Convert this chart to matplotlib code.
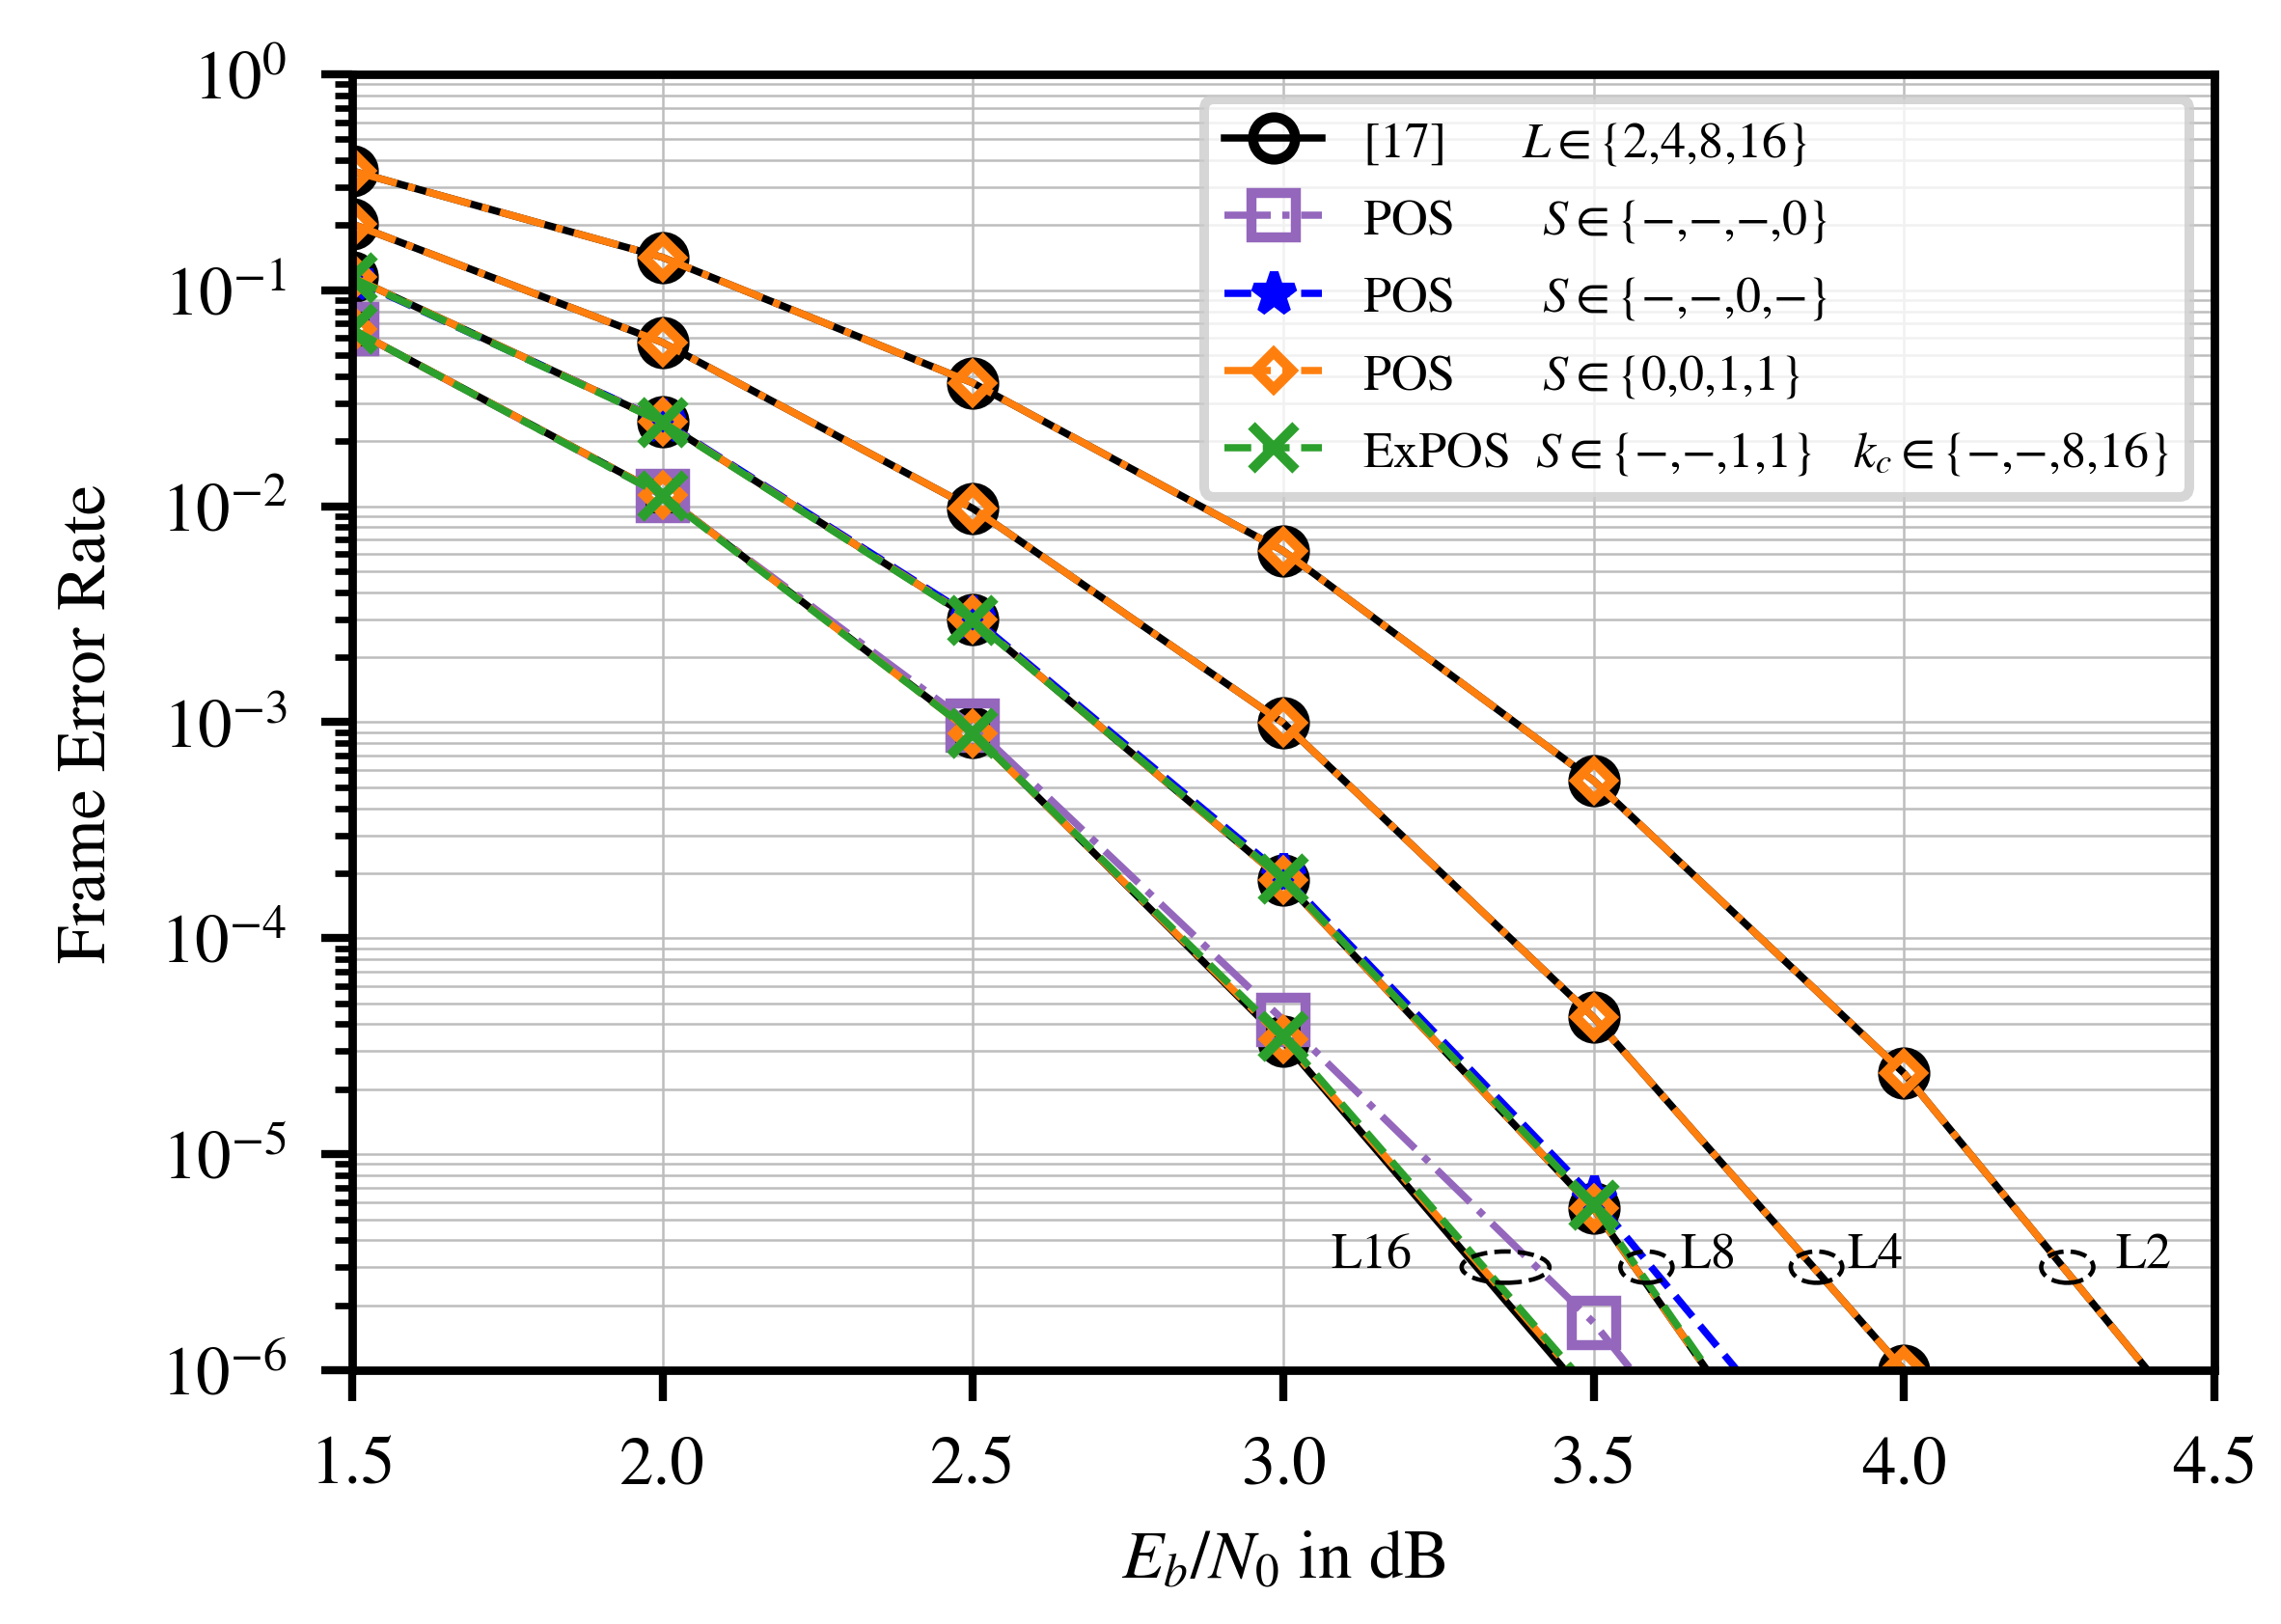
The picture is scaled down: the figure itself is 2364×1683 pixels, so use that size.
import numpy as np
import matplotlib
matplotlib.use('Agg')
import matplotlib.pyplot as plt
from matplotlib.patches import Ellipse
from matplotlib.ticker import LogLocator, NullFormatter, MultipleLocator, FormatStrFormatter

plt.rcParams['font.family'] = ['STIXGeneral', 'DejaVu Serif']
plt.rcParams['mathtext.fontset'] = 'stix'
plt.rcParams['axes.linewidth'] = 2.1

# Eb/N0 in dB
snr = [1.5, 2.0, 2.5, 3.0, 3.5, 4.0, 4.5]

# [17] reference decoder, L in {2,4,8,16}
ref_L2 = [3.57e-1, 1.42e-1, 3.72e-2, 6.21e-3, 5.36e-4, 2.37e-5, 4.2e-7]
ref_L4 = [2.03e-1, 5.73e-2, 9.76e-3, 9.93e-4, 4.30e-5, 1.0e-6]
ref_L8 = [1.15e-1, 2.46e-2, 2.99e-3, 1.85e-4, 5.6e-6, 5.0e-8]
ref_L16 = [6.6e-2, 1.13e-2, 8.97e-4, 3.33e-5, 7.0e-7]

# POS S in {-,-,-,0}  (only L16)
pos_a_L16 = [6.6e-2, 1.12e-2, 9.6e-4, 4.18e-5, 1.66e-6, 2.6e-8]

# POS S in {-,-,0,-}  (only L8)
pos_b_L8 = [1.13e-1, 2.48e-2, 3.05e-3, 1.95e-4, 6.3e-6, 1.17e-7]

# POS S in {0,0,1,1}
pos_c_L2 = [3.57e-1, 1.42e-1, 3.72e-2, 6.21e-3, 5.36e-4, 2.37e-5, 4.2e-7]
pos_c_L4 = [2.03e-1, 5.73e-2, 9.76e-3, 9.93e-4, 4.30e-5, 1.0e-6]
pos_c_L8 = [1.15e-1, 2.46e-2, 2.99e-3, 1.85e-4, 5.6e-6, 5.0e-8]
pos_c_L16 = [6.6e-2, 1.13e-2, 8.9e-4, 3.4e-5, 7.6e-7]

# ExPOS S in {-,-,1,1}, kc in {-,-,8,16}
expos_L8 = [1.14e-1, 2.45e-2, 2.97e-3, 1.88e-4, 5.8e-6, 5.0e-8]
expos_L16 = [6.6e-2, 1.12e-2, 8.9e-4, 3.5e-5, 7.8e-7]

# list-size annotations (dashed ellipses)
group_names = ['L16', 'L8', 'L4', 'L2']
ellipse_x = [3.358, 3.585, 3.859, 4.263]
ellipse_w = [0.1415, 0.084, 0.083, 0.084]
ellipse_h = 0.145  # decades
ellipse_y = 3.0e-6
name_x = [3.207, 3.639, 3.908, 4.34]
name_ha = ['right', 'left', 'left', 'left']

labels = [
    r'[17]      $L \in \{2{,}4{,}8{,}16\}$',
    r'POS       $S \in \{{-}{,}{-}{,}{-}{,}0\}$',
    r'POS       $S \in \{{-}{,}{-}{,}0{,}{-}\}$',
    r'POS       $S \in \{0{,}0{,}1{,}1\}$',
    r'ExPOS  $S \in \{{-}{,}{-}{,}1{,}1\}$   $k_c \in \{{-}{,}{-}{,}8{,}16\}$',
]

lw = 1.8

fig = plt.figure(figsize=(7.88, 5.6133), dpi=300)
ax = fig.add_axes([0.1544, 0.1562, 0.9708 - 0.1544, 0.9537 - 0.1562])

ax.set_xlim(1.5, 4.5)
ax.set_ylim(1e-6, 1)
ax.set_yscale('log')

# [17]
for i, y in enumerate([ref_L2, ref_L4, ref_L8, ref_L16]):
    ax.plot(snr[:len(y)], y, color='k', ls='-', lw=lw, marker='o', ms=10.5, mew=2.5,
            mfc='none', mec='k', label=labels[0] if i == 0 else None)

# POS {-,-,-,0}
ax.plot(snr[:len(pos_a_L16)], pos_a_L16, color='#9467bd', ls='-.', lw=lw, marker='s', ms=10.9,
        mew=2.5, mfc='none', label=labels[1])

# POS {-,-,0,-}
ax.plot(snr[:len(pos_b_L8)], pos_b_L8, color='blue', ls='--', lw=lw, marker='*', ms=10.5,
        mew=2.2, label=labels[2])

# POS {0,0,1,1}
for i, y in enumerate([pos_c_L2, pos_c_L4, pos_c_L8, pos_c_L16]):
    ax.plot(snr[:len(y)], y, color='#ff7f0e', ls='-.', lw=lw, marker='D', ms=6.4, mew=2.5,
            mfc='none', label=labels[3] if i == 0 else None)

# ExPOS
for i, y in enumerate([expos_L8, expos_L16]):
    ax.plot(snr[:len(y)], y, color='#2ca02c', ls='--', lw=lw, marker='x', ms=11, mew=2.5,
            label=labels[4] if i == 0 else None)

ax.xaxis.set_major_locator(MultipleLocator(0.5))
ax.xaxis.set_major_formatter(FormatStrFormatter('%.1f'))
ax.yaxis.set_major_locator(LogLocator(base=10, numticks=20))
ax.yaxis.set_minor_locator(LogLocator(base=10, subs=np.arange(2, 10), numticks=20))
ax.yaxis.set_minor_formatter(NullFormatter())

ax.tick_params(which='major', length=7.6, width=2.0, pad=8.5, labelsize=17)
ax.tick_params(which='minor', length=4.3, width=1.6)

ax.grid(True, which='major', color='#bdbdbd', lw=0.6)
ax.grid(True, which='minor', axis='y', color='#bdbdbd', lw=0.6)
ax.set_axisbelow(True)

ax.set_xlabel(r'$E_b/N_0$ in dB', fontsize=17, labelpad=8)
ax.set_ylabel('Frame Error Rate', fontsize=17, labelpad=10)

# dashed ellipses marking the list sizes
to_axes = ax.transAxes.inverted()
for name, ex, ew, tx, ha in zip(group_names, ellipse_x, ellipse_w, name_x, name_ha):
    cx, cy = to_axes.transform(ax.transData.transform((ex, ellipse_y)))
    ell = Ellipse((cx, cy), ew / 3.0, ellipse_h / 6.0, transform=ax.transAxes,
                  fill=False, ls='--', lw=1.1, ec='k', zorder=5)
    ax.add_patch(ell)
    ax.text(tx, ellipse_y, name, ha=ha, va='baseline', fontsize=12.5, zorder=5)

leg = ax.legend(loc='upper right', fontsize=12.5, framealpha=0.8, edgecolor='0.8',
                labelspacing=0.6, handlelength=1.95)
leg.get_frame().set_linewidth(2.4)

fig.savefig('out.png', dpi=300)
